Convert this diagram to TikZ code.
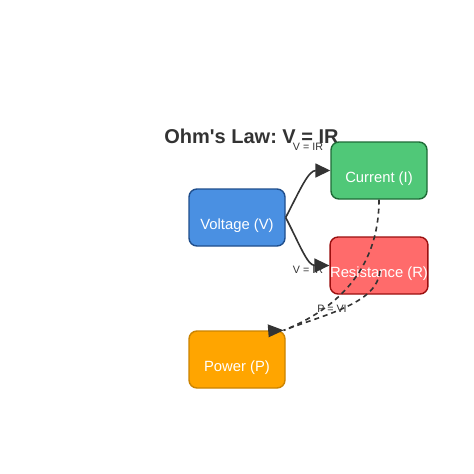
\documentclass[tikz,border=0pt]{standalone}
\usepackage{fontspec}
\setmainfont{Liberation Sans}
\usetikzlibrary{arrows.meta}
\definecolor{vfill}{HTML}{4A90E2}\definecolor{vdraw}{HTML}{1F4E8C}
\definecolor{cfill}{HTML}{50C878}\definecolor{cdraw}{HTML}{1E6B36}
\definecolor{rfill}{HTML}{FF6B6B}\definecolor{rdraw}{HTML}{9B0F0F}
\definecolor{pfill}{HTML}{FFA500}\definecolor{pdraw}{HTML}{CC8400}
\definecolor{ink}{HTML}{333333}
\frenchspacing
\tikzset{
  box/.style={rectangle, rounded corners=8pt, line width=1.4pt, minimum width=96pt, minimum height=57pt, inner sep=0pt, text height=23.6pt, text depth=0pt, text=white, font=\fontsize{14.8}{16}\selectfont},
  link/.style={draw=ink, line width=1.6pt, -{Triangle[length=15pt,width=14pt]}},
  dlink/.style={draw=ink, line width=1.6pt, dashed, dash pattern=on 5pt off 4pt},
  tipmark/.style={fill=ink},
  elab/.style={text=ink, font=\fontsize{10.7}{12}\selectfont, inner sep=0pt}
}
\begin{document}
\begin{tikzpicture}[x=1pt,y=-1pt]
\useasboundingbox[fill=white] (0,0) rectangle (474,474);
\node[font=\bfseries\fontsize{20}{22}\selectfont, text=ink, inner sep=0pt] (title) at (251.5,136) {Ohm\textquotesingle s Law: V = IR};
\node[box, fill=vfill, draw=vdraw] (V) at (237,217.5) {Voltage (V)};
\node[box, fill=cfill, draw=cdraw] (C) at (379,170.5) {Current (I)};
\node[box, fill=rfill, draw=rdraw] (R) at (379,265.5) {Resistance (R)};
\node[box, fill=pfill, draw=pdraw] (P) at (237,359.5) {Power (P)};
\coordinate (Rin) at (380,271);
\coordinate (Pend) at ([xshift=-2pt]P.north east);
\draw[link] (V.east) .. controls +(14,-27) and +(-22,0) .. (C.west);
\draw[link] (V.east) .. controls +(14,27) and +(-22,0) .. (R.west);
\draw[dlink] (C.south) .. controls +(0,72) and +(50,-20) .. (Pend);
\draw[dlink] (Rin) .. controls +(-3,32) and +(45,-17) .. (Pend);
\fill[tipmark] (Pend) -- ++(-16,-6) -- ++(1,13) -- cycle;
\node[elab] (l1) at (308,147) {V = IR};
\node[elab] (l2) at (308,270) {V = IR};
\node[elab] (l3) at (332,309) {P = VI};
\end{tikzpicture}
\end{document}
